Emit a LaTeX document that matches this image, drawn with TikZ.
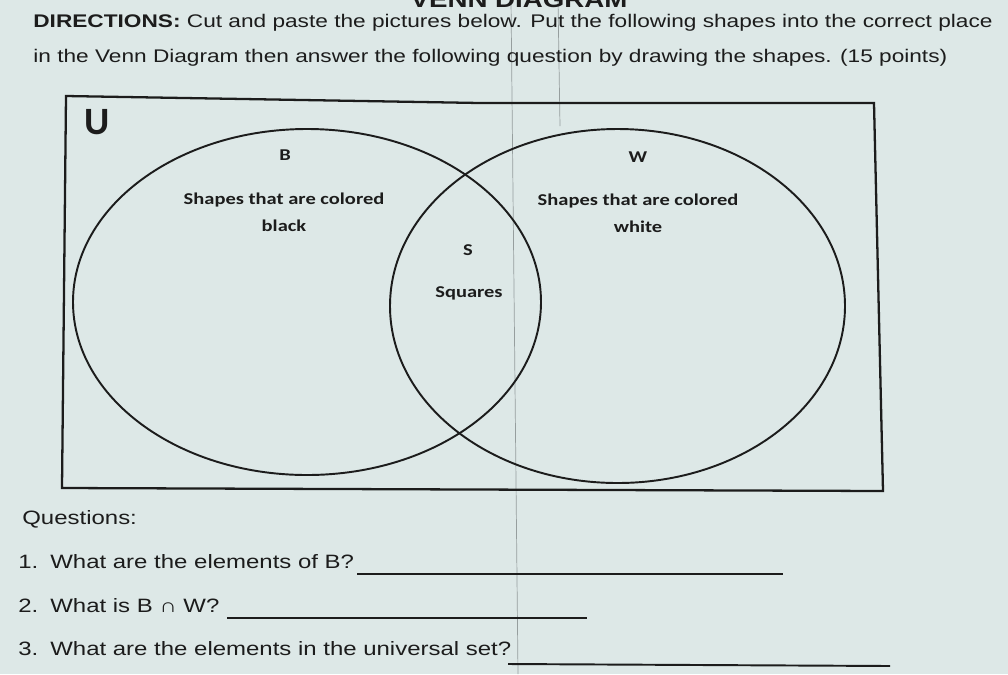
\documentclass[tikz,border=0pt]{standalone}
\usepackage{graphicx}
\usepackage{fontspec}
\setmainfont{Liberation Sans}
\newfontfamily\calib{Carlito}
\definecolor{paper}{RGB}{221,232,231}
\definecolor{ink}{RGB}{28,28,28}
\definecolor{crease}{RGB}{150,158,158}
\newcommand\hs[1]{\scalebox{1.24}[1]{#1}}
\begin{document}
\begin{tikzpicture}[x=0.02cm,y=-0.02cm,
  inkline/.style={draw=ink, line width=1.1pt},
  creaseline/.style={draw=crease, line width=0.4pt},
  venntext/.style={font=\calib\bfseries\fontsize{9.4}{15.4}\selectfont, text=ink, inner sep=0pt, align=center},
  headtext/.style={font=\fontsize{10.4}{12}\selectfont, text=ink, inner sep=0pt, anchor=base west},
  qtext/.style={font=\fontsize{11}{13}\selectfont, text=ink, inner sep=0pt, anchor=base west},
  ansline/.style={draw=ink, line width=1.1pt}]
\fill[paper] (0,0) rectangle (1008,674);
\useasboundingbox (0,0) rectangle (1008,674);
% paper creases
\coordinate (c1a) at (511,0); \coordinate (c1b) at (518,674);
\coordinate (c2a) at (558,0); \coordinate (c2b) at (560,126);
\draw[creaseline] (c1a) -- (c1b);
\draw[creaseline] (c2a) -- (c2b);
% title and directions
\node[font=\bfseries\fontsize{12.7}{14}\selectfont, text=ink, inner sep=0pt, anchor=base] (title) at (519,7) {\hs{VENN DIAGRAM}};
\node[headtext] (dir1) at (33,27) {\hs{\textbf{DIRECTIONS:} Cut and paste the pictures below. Put the following shapes into the correct place}};
\node[headtext] (dir2) at (33,62) {\hs{in the Venn Diagram then answer the following question by drawing the shapes. (15 points)}};
% universal set box
\coordinate (uTL) at (66,96); \coordinate (uTM) at (480,103); \coordinate (uTR) at (874,103);
\coordinate (uBR) at (883,491); \coordinate (uBL) at (62,488);
\draw[inkline, line width=1.3pt] (uTL) -- (uTM) -- (uTR) -- (uBR) -- (uBL) -- cycle;
\node[font=\calib\bfseries\fontsize{22}{24}\selectfont, text=ink, inner sep=0pt] (U) at (97,122) {U};
% ellipses
\draw[inkline] (307,302) ellipse [x radius=234, y radius=173];
\draw[inkline] (617.5,306) ellipse [x radius=227.5, y radius=177];
% labels
\node[venntext] (B) at (285,155) {\hs{B}};
\node[venntext] (Btxt) at (284,212) {\hs{Shapes that are colored}\\\hs{black}};
\node[venntext] (W) at (638,157) {\hs{W}};
\node[venntext] (Wtxt) at (638,213) {\hs{Shapes that are colored}\\\hs{white}};
\node[venntext] (S) at (468,250) {\hs{S}};
\node[venntext] (Stxt) at (469,293) {\hs{Squares}};
% questions
\node[qtext] (qhead) at (22,524) {\hs{Questions:}};
\node[qtext] (n1) at (18,568) {\hs{1.}};
\node[qtext] (q1) at (50,568) {\hs{What are the elements of B?}};
\node[qtext] (n2) at (18,612) {\hs{2.}};
\node[qtext] (q2) at (50,612) {\hs{What is B ∩ W?}};
\node[qtext] (n3) at (18,655) {\hs{3.}};
\node[qtext] (q3) at (50,655) {\hs{What are the elements in the universal set?}};
\coordinate (a1s) at (357,574); \coordinate (a1e) at (783,574);
\coordinate (a2s) at (227,618); \coordinate (a2e) at (587,618);
\coordinate (a3s) at (508,664); \coordinate (a3e) at (890,666);
\draw[ansline] (a1s) -- (a1e);
\draw[ansline] (a2s) -- (a2e);
\draw[ansline] (a3s) -- (a3e);
\end{tikzpicture}
\end{document}
